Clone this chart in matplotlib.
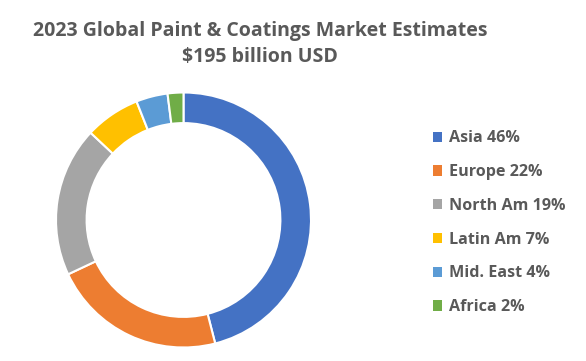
import matplotlib
matplotlib.use("Agg")
import matplotlib.pyplot as plt
from matplotlib.patches import Patch

regions = ["Asia", "Europe", "North Am", "Latin Am", "Mid. East", "Africa"]
shares = [46, 22, 19, 7, 4, 2]
colors = ["#4472C4", "#ED7D31", "#A5A5A5", "#FFC000", "#5B9BD5", "#70AD47"]
title_lines = ["2023 Global Paint & Coatings Market Estimates", "$195 billion USD"]

text_color = "#595959"
plt.rcParams['font.family'] = ['Open Sans', 'DejaVu Sans']

fig = plt.figure(figsize=(5.86, 3.61), dpi=100)
ax = fig.add_axes([56/586, (361-347.5)/361, 255/586, 255/361])
ax.pie(shares, colors=colors, startangle=90, counterclock=False,
       radius=1.0, wedgeprops=dict(width=0.24, edgecolor="white", linewidth=1.5))
ax.set_xlim(-1, 1)
ax.set_ylim(-1, 1)
ax.set_aspect('equal')
ax.axis('off')

fig.text(260/586, 1-31/361, title_lines[0], ha='center', va='center',
         fontsize=14, fontweight='bold', color=text_color)
fig.text(260/586, 1-57/361, title_lines[1], ha='center', va='center',
         fontsize=14, fontweight='bold', color=text_color)

handles = [Patch(facecolor=c, edgecolor='none') for c in colors]
labels = [f"{r} {s}%" for r, s in zip(regions, shares)]
leg = fig.legend(handles, labels, loc='upper left', bbox_to_anchor=(418/586, 1-116/361),
                 frameon=False, handlelength=0.6, handleheight=0.6, handletextpad=0.4,
                 labelspacing=1.1, prop=dict(size=11.6, weight='bold'))
for t in leg.get_texts():
    t.set_color(text_color)

fig.savefig("out.png", dpi=100)
